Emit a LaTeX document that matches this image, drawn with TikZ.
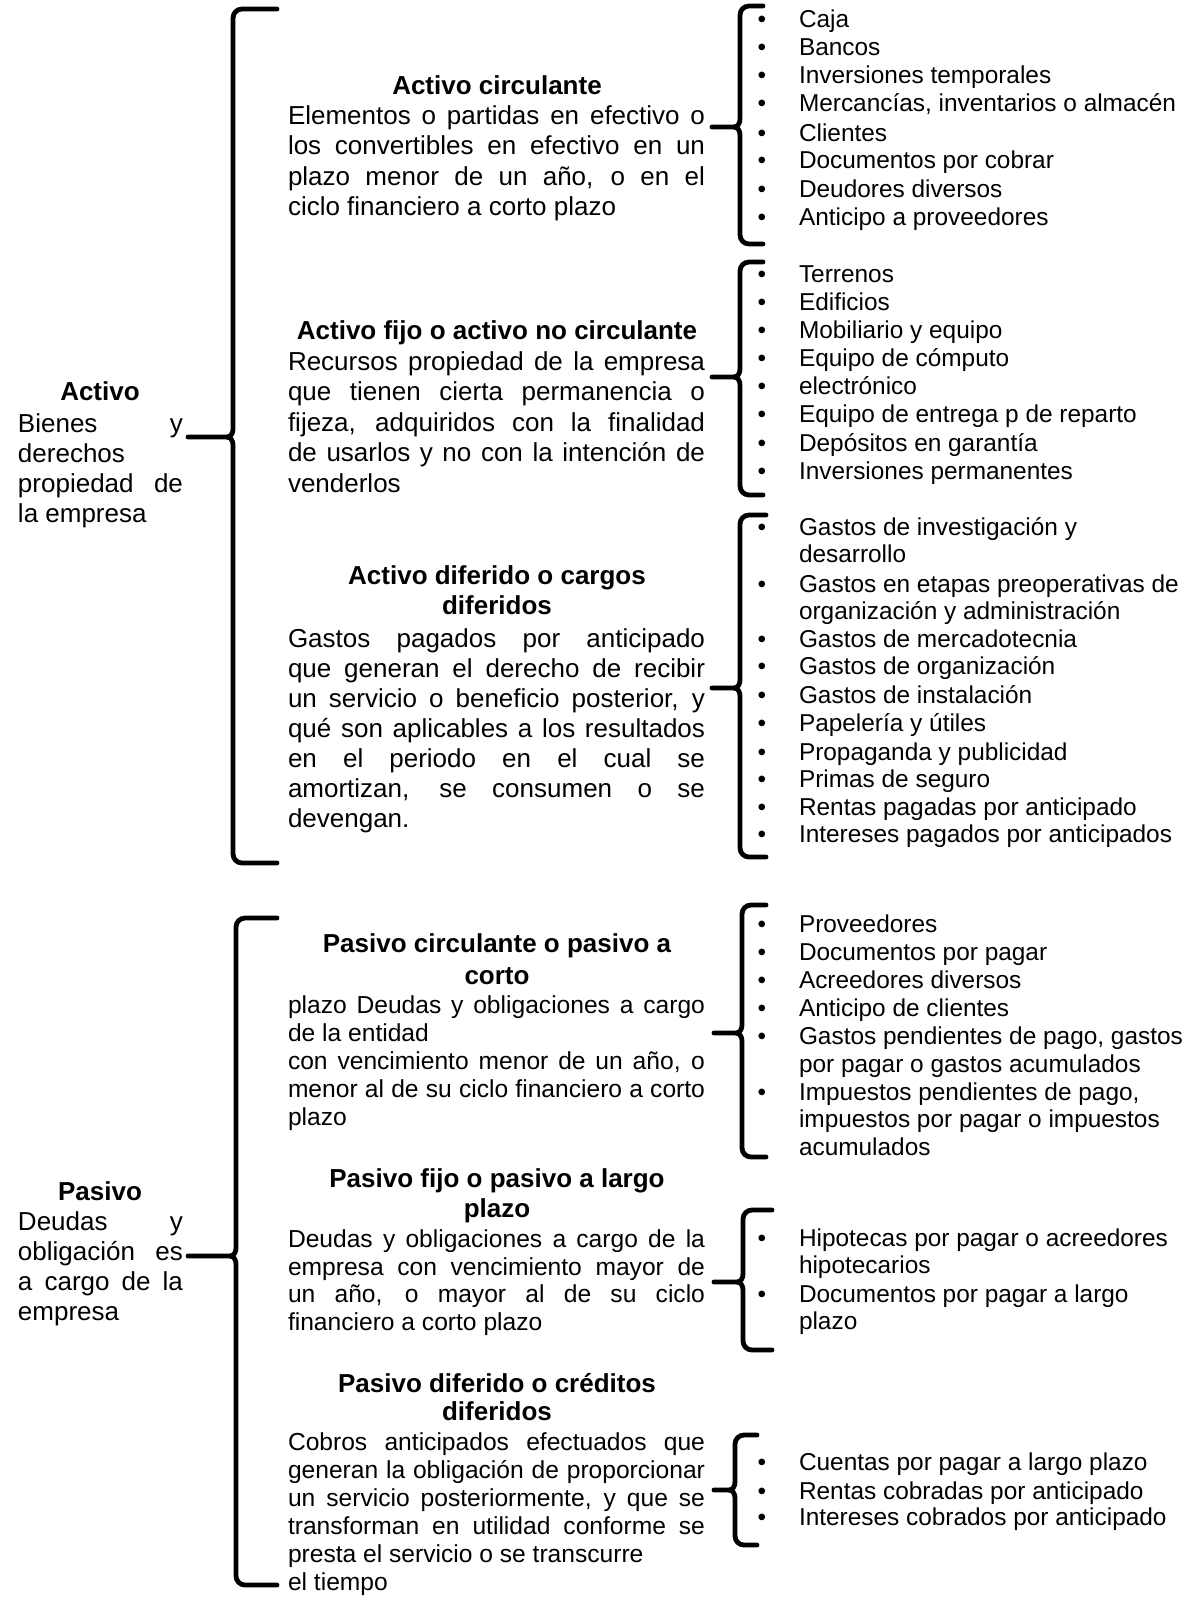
\documentclass[tikz,border=0pt]{standalone}
\usepackage{fontspec}
\setmainfont{Liberation Sans}
\newcommand\JA[1]{\makebox[208.5pt][s]{#1}}
\newcommand\JL[1]{\makebox[82.5pt][s]{#1}}
\tikzset{
 txt/.style={inner sep=0pt, outer sep=0pt, font=\fontsize{13}{15}\selectfont, anchor=base west},
 ptxt/.style={inner sep=0pt, outer sep=0pt, font=\fontsize{12.3}{14}\selectfont, anchor=base west},
 ttl/.style={inner sep=0pt, outer sep=0pt, font=\fontsize{13}{15}\selectfont\bfseries, anchor=base},
 itm/.style={inner sep=0pt, outer sep=0pt, font=\fontsize{12.2}{14}\selectfont, anchor=base west},
 bul/.style={inner sep=0pt, outer sep=0pt, font=\fontsize{12.2}{14}\selectfont, anchor=base},
 brc/.style={line width=2.4pt, line cap=round, line join=round},
}
% name, xv, ytop, ybot, xend, xtip, ymid
\newcommand\CBrace[7]{%
 \coordinate (#1-top) at (#5,#3);
 \coordinate (#1-tip) at (#6,#7);
 \coordinate (#1-bot) at (#5,#4);
 \draw[brc] (#1-top) -- ({#2+9},#3) to[out=180,in=90] ({#2},{#3+9}) -- ({#2},{#7-8}) to[out=-90,in=0] ({#2-6},#7) -- (#1-tip);
 \draw[brc] ({#2-6},#7) to[out=0,in=90] ({#2},{#7+8}) -- ({#2},{#4-9}) to[out=-90,in=180] ({#2+9},#4) -- (#1-bot);
}
\newcommand\Items[2]{% prefix, list y/bullet/text
 \foreach \yy/\bb/\tx [count=\i] in {#2} {
   \node[itm] (#1t\i) at (799,\yy) {\tx};
   \ifnum\bb=1 \node[bul] (#1b\i) at (762,\yy) {•};\fi
 }
}
\newcommand\Lines[4]{% prefix, x, style, list y/text
 \foreach \yy/\tx [count=\i] in {#4} {
   \node[#3] (#1\i) at (#2,\yy) {\tx};
 }
}
\begin{document}
\begin{tikzpicture}[x=0.5pt,y=-0.5pt]
\fill[white] (0,0) rectangle (1200,1600);
\useasboundingbox (0,0) rectangle (1200,1600);

% ---------- ACTIVO ----------
\node[ttl] (activo) at (100,400) {Activo};
\Lines{activo-}{18}{txt}{432/{\JL{Bienes y}}, 462/derechos, 492/{\JL{propiedad de}}, 522/{la empresa}}

\CBrace{BA}{233}{9}{863}{277}{188}{437}

% Activo circulante
\node[ttl] (ac) at (497,95) {Activo circulante};
\Lines{ac-}{288}{txt}{125/{\JA{Elementos o partidas en efectivo o}}, 155/{\JA{los convertibles en efectivo en un}}, 185/{\JA{plazo menor de un año, o en el}}, 215/{ciclo financiero a corto plazo}}

\CBrace{B1}{740}{6}{244}{763}{712}{127}
\Items{L1}{28/1/Caja, 56/1/Bancos, 84/1/{Inversiones temporales}, 112/1/{Mercancías, inventarios o almacén}, 141/1/Clientes, 169/1/{Documentos por cobrar}, 197/1/{Deudores diversos}, 225/1/{Anticipo a proveedores}}

% Activo fijo
\node[ttl] (af) at (497,339) {Activo fijo o activo no circulante};
\Lines{af-}{288}{txt}{370/{\JA{Recursos propiedad de la empresa}}, 400/{\JA{que tienen cierta permanencia o}}, 431/{\JA{fijeza, adquiridos con la finalidad}}, 461/{\JA{de usarlos y no con la intención de}}, 492/venderlos}

\CBrace{B2}{740}{262}{495}{763}{712}{377}
\Items{L2}{282/1/Terrenos, 310/1/Edificios, 338/1/{Mobiliario y equipo}, 366/1/{Equipo de cómputo}, 394/1/electrónico, 422/1/{Equipo de entrega p de reparto}, 451/1/{Depósitos en garantía}, 479/1/{Inversiones permanentes}}

% Activo diferido
\node[ttl] (ad) at (497,584) {Activo diferido o cargos};
\node[ttl] (ad2) at (497,614) {diferidos};
\Lines{ad-}{288}{txt}{647/{\JA{Gastos pagados por anticipado}}, 677/{\JA{que generan el derecho de recibir}}, 707/{\JA{un servicio o beneficio posterior, y}}, 737/{\JA{qué son aplicables a los resultados}}, 767/{\JA{en el periodo en el cual se}}, 797/{\JA{amortizan, se consumen o se}}, 827/{devengan.}}

\CBrace{B3}{740}{515}{857}{766}{712}{688}
\Items{L3}{535/1/{Gastos de investigación y}, 562/0/desarrollo, 592/1/{Gastos en etapas preoperativas de}, 619/0/{organización y administración}, 647/1/{Gastos de mercadotecnia}, 674/1/{Gastos de organización}, 703/1/{Gastos de instalación}, 731/1/{Papelería y útiles}, 760/1/{Propaganda y publicidad}, 787/1/{Primas de seguro}, 815/1/{Rentas pagadas por anticipado}, 842/1/{Intereses pagados por anticipados}}

% ---------- PASIVO ----------
\node[ttl] (pasivo) at (100,1200) {Pasivo};
\Lines{pasivo-}{18}{txt}{1230/{\JL{Deudas y}}, 1260/{\JL{obligación es}}, 1290/{\JL{a cargo de la}}, 1320/empresa}

\CBrace{BP}{236}{918}{1585}{277}{188}{1256}

% Pasivo circulante
\node[ttl] (pc) at (497,952) {Pasivo circulante o pasivo a};
\node[ttl] (pc2) at (497,984) {corto};
\Lines{pc-}{288}{ptxt}{1013/{\JA{plazo Deudas y obligaciones a cargo}}, 1041/{de la entidad}, 1069/{\JA{con vencimiento menor de un año, o}}, 1097/{\JA{menor al de su ciclo financiero a corto}}, 1125/plazo}

\CBrace{B4}{742}{905}{1157}{766}{714}{1033}
\Items{L4}{932/1/Proveedores, 960/1/{Documentos por pagar}, 988/1/{Acreedores diversos}, 1016/1/{Anticipo de clientes}, 1044/1/{Gastos pendientes de pago, gastos}, 1072/0/{por pagar o gastos acumulados}, 1100/1/{Impuestos pendientes de pago,}, 1127/0/{impuestos por pagar o impuestos}, 1155/0/acumulados}

% Pasivo fijo
\node[ttl] (pf) at (497,1187) {Pasivo fijo o pasivo a largo};
\node[ttl] (pf2) at (497,1217) {plazo};
\Lines{pf-}{288}{ptxt}{1247/{\JA{Deudas y obligaciones a cargo de la}}, 1275/{\JA{empresa con vencimiento mayor de}}, 1302/{\JA{un año, o mayor al de su ciclo}}, 1330/{financiero a corto plazo}}

\CBrace{B5}{743}{1210}{1350}{772}{714}{1282}
\Items{L5}{1246/1/{Hipotecas por pagar o acreedores}, 1273/0/hipotecarios, 1302/1/{Documentos por pagar a largo}, 1329/0/plazo}

% Pasivo diferido
\node[ttl] (pd) at (497,1392) {Pasivo diferido o créditos};
\node[ttl] (pd2) at (497,1420) {diferidos};
\Lines{pd-}{288}{ptxt}{1450/{\JA{Cobros anticipados efectuados que}}, 1478/{\JA{generan la obligación de proporcionar}}, 1506/{\JA{un servicio posteriormente, y que se}}, 1534/{\JA{transforman en utilidad conforme se}}, 1562/{presta el servicio o se transcurre}, 1590/{el tiempo}}

\CBrace{B6}{735}{1435}{1545}{757}{714}{1490}
\Items{L6}{1470/1/{Cuentas por pagar a largo plazo}, 1499/1/{Rentas cobradas por anticipado}, 1525/1/{Intereses cobrados por anticipado}}
\end{tikzpicture}
\end{document}
